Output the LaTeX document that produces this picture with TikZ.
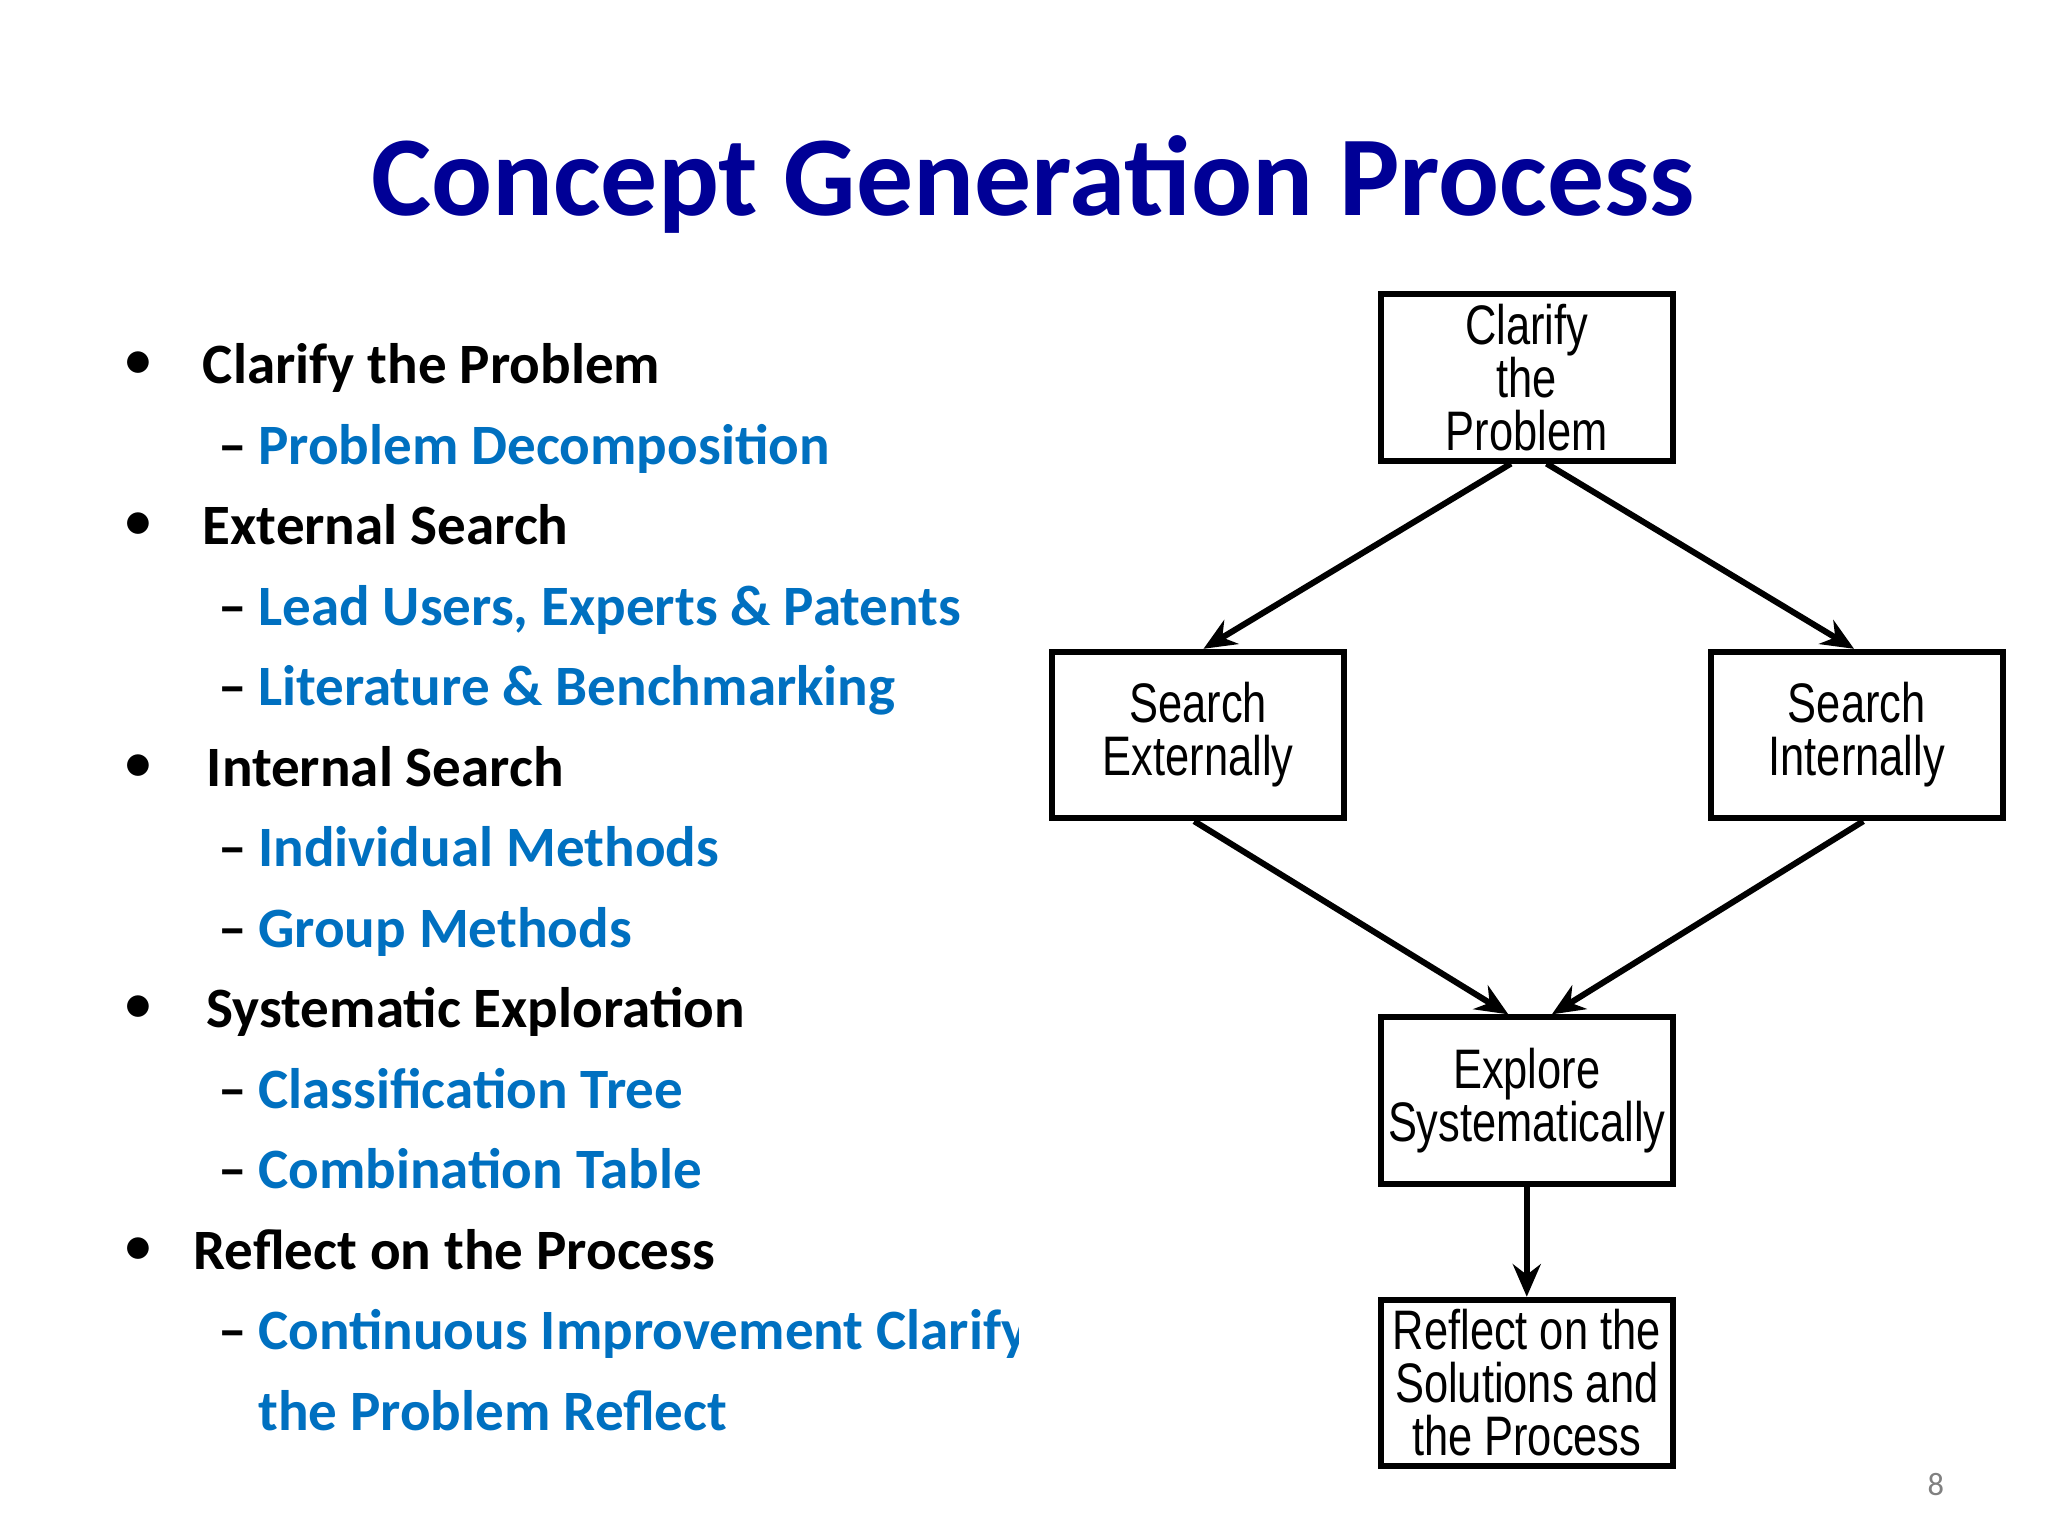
\documentclass[tikz,border=0pt]{standalone}
\usepackage{fontspec}
\setmainfont{Carlito}
\newfontfamily\boxfont{Liberation Sans}[FakeStretch=0.78]
\usetikzlibrary{arrows.meta}
\definecolor{ttl}{RGB}{0,0,150}
\definecolor{sub}{RGB}{0,112,192}
\begin{document}
\begin{tikzpicture}[x=0.01cm,y=-0.01cm,
 box/.style={draw,line width=1.3pt,minimum width=2.21cm,minimum height=1.26cm,align=center,font=\boxfont\fontsize{12}{11.4}\selectfont,inner sep=0pt},
 arr/.style={line width=1.3pt,-{Stealth[length=7pt,width=6pt]}},
 main/.style={anchor=base west,font=\bfseries\fontsize{12.3}{15}\selectfont,inner sep=0pt},
 subi/.style={anchor=base west,font=\bfseries\fontsize{12.3}{15}\selectfont,text=sub,inner sep=0pt}]
\useasboundingbox (0,0) rectangle (1552,1164);
\node[font=\bfseries\fontsize{24.5}{29}\selectfont,text=ttl] (title) at (783,140) {Concept Generation Process};
% bullets
\foreach \n/\yy/\xx/\t in {b1/280/153/Clarify the Problem,b2/402/153/External Search,b3/585/156/Internal Search,b4/768/156/Systematic Exploration,b5/951/146/Reflect on the Process}{
 \node[main] (\n) at (\xx,\yy+11) {\t};
 \node[font=\fontsize{13}{15}\selectfont] (\n d) at (105,\yy-4) {$\bullet$};
}
\foreach \n/\yy/\t in {s1/341/Problem Decomposition,s2/463/{Lead Users, Experts \& Patents},s3/524/Literature \& Benchmarking,s4/646/Individual Methods,s5/707/Group Methods,s6/829/Classification Tree,s7/890/Combination Table,s9/1073/the Problem Reflect}{
 \node[subi] (\n) at (195,\yy+11) {\t};
}
\foreach \n/\yy in {341,463,524,646,707,829,890,1012}{
 \node[subi,text=black] (d\n) at (165,\yy+11) {–};
}
\begin{scope}
\clip (150,980) rectangle (772,1040);
\node[subi] (s8) at (195,1012+11) {Continuous Improvement Clarify the};
\end{scope}
% flowchart
\node[box] (c) at (1157,286) {Clarify\\the\\Problem};
\node[box] (e) at (908,557) {Search\\Externally};
\node[box] (i) at (1407,557) {Search\\Internally};
\node[box] (x) at (1157,834) {Explore\\Systematically};
\node[box] (r) at (1157,1048) {Reflect on the\\Solutions and\\the Process};
\draw[arr] ([xshift=-0.12cm]c.south) -- ([xshift=0.04cm]e.north);
\draw[arr] ([xshift=0.15cm]c.south) -- ([xshift=-0.02cm]i.north);
\draw[arr] ([xshift=-0.03cm]e.south) -- ([xshift=-0.14cm]x.north);
\draw[arr] ([xshift=0.05cm]i.south) -- ([xshift=0.19cm]x.north);
\draw[arr] (x) -- (r);
\node[text=gray,font=\fontsize{7}{8}\selectfont] (pg) at (1467,1125) {8};
\end{tikzpicture}
\end{document}
